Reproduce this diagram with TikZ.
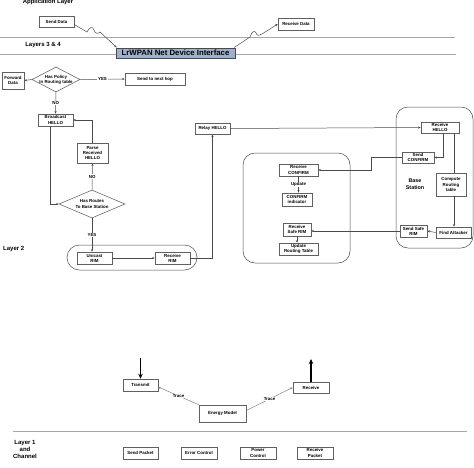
\documentclass[tikz,border=0pt]{standalone}
\usepackage{fontspec}
\setmainfont{Liberation Sans}
\usetikzlibrary{shapes.geometric,arrows.meta,calc}
\definecolor{lin}{HTML}{4A4A4A}
\definecolor{bxl}{HTML}{606060}
\definecolor{sep}{HTML}{A8A8A8}
\definecolor{lrw}{HTML}{9DB0CC}
\tikzset{
  bx/.style={draw=bxl, line width=0.55pt, fill=white, inner sep=0pt, align=center,
    font=\fontsize{4.4}{5.2}\selectfont\bfseries},
  dia/.style={draw=bxl, line width=0.55pt, fill=white, shape=diamond, inner sep=0pt},
  txt/.style={inner sep=0pt, align=center, font=\fontsize{4.4}{5.2}\selectfont\bfseries},
  lay/.style={inner sep=0pt, align=center, font=\fontsize{6}{7}\selectfont\bfseries},
  cont/.style={draw=lin, line width=0.5pt},
  arr/.style={draw=lin, line width=0.5pt, -{Stealth[length=2.6pt,width=2.2pt]}},
  ln/.style={draw=lin, line width=0.5pt},
  tr/.style={draw=gray, line width=0.5pt, -{Stealth[length=2.6pt,width=2.2pt]}},
  thk/.style={draw=black, line width=1.3pt, -{Stealth[length=5pt,width=4.5pt]}},
  sepl/.style={draw=sep, line width=0.9pt},
  lbl/.style={fill=white, inner sep=0.6pt, font=\fontsize{4.4}{5}\selectfont\bfseries}
}
\begin{document}
\begin{tikzpicture}[x=1pt,y=-1pt]
\useasboundingbox (0,0) rectangle (474,467);

% layer separators
\draw[sepl] (0,37) -- (455,37);
\draw[sepl] (0,54) -- (456,54);
\draw[sepl] (13,431) -- (467,431);

% layer labels
\node[lay] (applab) at (48,2) {Application Layer};
\node[lay] (l34) at (43,45) {Layers 3 \& 4};
\node[lay, anchor=west] (l2) at (3,249) {Layer 2};
\node[lay] (l1) at (25,449) {Layer 1\\and\\Channel};

% containers
\node[cont, rounded corners=12.5pt, minimum width=130pt, minimum height=25pt] (capsule) at (132,257.5) {};
\node[cont, rounded corners=12pt, minimum width=107pt, minimum height=110pt] (inner) at (296.5,208) {};
\node[cont, rounded corners=12pt, minimum width=77pt, minimum height=141pt] (base) at (434.5,177.5) {};
\node[txt, font=\fontsize{5.4}{6.4}\selectfont\bfseries] (basetxt) at (415,184) {Base\\Station};

% top
\node[bx, minimum width=35pt, minimum height=11pt] (senddata) at (56.5,21.5) {Send Data};
\node[bx, minimum width=36pt, minimum height=12pt] (recvdata) at (296,24) {Receive Data};
\node[draw=lin, line width=0.5pt, fill=lrw, inner sep=0pt, minimum width=119pt, minimum height=10.5pt,
      font=\fontsize{7.8}{9}\selectfont\bfseries] (lrwpan) at (175.5,53) {LrWPAN Net Device Interface};

% layer 3/4 flow
\node[bx, minimum width=22pt, minimum height=17pt] (fwd) at (13,80.5) {Forward\\Data};
\node[dia, minimum width=48pt, minimum height=25pt] (policy) at (56,79.5) {};
\node[txt] (policytxt) at (policy) {Has Policy\\In Routing table};
\node[bx, minimum width=60pt, minimum height=12pt] (nexthop) at (155,79) {Send to next hop};
\node[bx, minimum width=35pt, minimum height=12pt] (bcast) at (55.5,120) {Broadcast\\HELLO};
\node[bx, minimum width=31pt, minimum height=20pt] (parse) at (92.5,153) {Parse\\Received\\HELLO};
\node[dia, minimum width=66pt, minimum height=28pt] (routes) at (92,204) {};
\node[txt] (routestxt) at (routes) {Has Routes\\To Base Station};
\node[bx, minimum width=35pt, minimum height=12pt] (unicast) at (94.5,258) {Unicast\\RIM};
\node[bx, minimum width=35pt, minimum height=12pt] (rrim) at (172.5,258) {Receive\\RIM};
\node[bx, minimum width=35pt, minimum height=11pt] (relay) at (212.5,128.5) {Relay HELLO};

% inner group
\node[bx, minimum width=39pt, minimum height=12pt] (rconfirm) at (298.5,170) {Receive\\CONFIRM};
\node[bx, minimum width=30pt, minimum height=13pt] (cind) at (297,199.5) {CONFIRM\\indicator};
\node[bx, minimum width=28pt, minimum height=13pt] (rsrim) at (297,229.5) {Receive\\Safe RIM};
\node[bx, minimum width=39pt, minimum height=12pt] (urt) at (298.5,249) {Update\\Routing Table};

% base station
\node[bx, minimum width=38pt, minimum height=11pt] (rhello) at (440,127.5) {Receive\\HELLO};
\node[bx, minimum width=32pt, minimum height=11pt] (sconfirm) at (418,157.5) {Send\\CONFIRM};
\node[bx, minimum width=30pt, minimum height=23pt] (compute) at (451,184.5) {Compute\\Routing\\table};
\node[bx, minimum width=35pt, minimum height=11pt] (findatt) at (453.5,232.5) {Find Attacker};
\node[bx, minimum width=27pt, minimum height=12pt] (ssrim) at (413.5,231) {Send Safe\\RIM};

% bottom
\node[bx, minimum width=35pt, minimum height=12pt] (transmit) at (140.5,385) {Transmit};
\node[bx, minimum width=47pt, minimum height=17pt] (energy) at (222.5,413.5) {Energy Model};
\node[bx, minimum width=36pt, minimum height=11pt] (receive) at (311,387.5) {Receive};
\node[bx, minimum width=35pt, minimum height=12pt] (sendpkt) at (140.5,453) {Send Packet};
\node[bx, minimum width=36pt, minimum height=12pt] (errctl) at (199,453) {Error Control};
\node[bx, minimum width=36pt, minimum height=12pt] (powctl) at (258,453) {Power\\Control};
\node[bx, minimum width=36pt, minimum height=12pt] (recvpkt) at (315,453) {Receive\\Packet};

% connectors: top squiggles
\draw[arr] ([yshift=-3pt]senddata.east) -- (87,32) .. controls (89,27) and (93,26) .. (94,30)
   .. controls (95,34) and (98,34) .. (100,32) -- ([xshift=1pt]lrwpan.north west);
\draw[arr] ([xshift=-1pt]lrwpan.north east) -- (250,37) .. controls (252,31) and (255,30) .. (256,33)
   .. controls (257,36) and (260,36) .. (262,34) -- (recvdata.west);

% layer 3/4 flow
\draw[arr] (policy.west) -- (fwd.east);
\draw[arr] (policy.east) -- node[lbl] {YES} (nexthop.west);
\draw[arr] (policy.south) -- node[lbl] {NO} (bcast.north);
\draw[arr] (parse.north) |- (bcast.east);
\draw[arr] (routes.north) -- node[lbl] {NO} (parse.south);
\draw[arr] ([xshift=-5.5pt]bcast.south) |- (routes.west);
\draw[arr] (routes.south) -- node[lbl] {YES} (routes.south |- unicast.north);
\draw[arr] (unicast.east) -- (rrim.west);
\draw[arr] (rrim.east) -| (relay.south);
\draw[arr] (relay.east) -- (rhello.west);

% base station
\draw[arr] ([xshift=3pt]rhello.south) |- (sconfirm.east);
\draw[ln] ([xshift=14pt]rhello.south) -- ([xshift=3pt]compute.north);
\draw[arr] ([xshift=3pt]compute.south) -- ([xshift=0.5pt]findatt.north);
\draw[arr] (findatt.west) -- (ssrim.east);
\draw[arr] (sconfirm.west) -- ++(-30,0) |- (rconfirm.east);
\draw[arr] (ssrim.west) -- (rsrim.east |- ssrim.west);

% inner group
\draw[arr] (rconfirm.south) -- node[lbl] {Update} (rconfirm.south |- cind.north);
\draw[arr] (rsrim.south) -- (rsrim.south |- urt.north);

% bottom
\coordinate (txin) at (140.5,358);
\coordinate (rxout) at (311,359);
\draw[thk] (txin) -- (transmit.north);
\draw[thk] (receive.north) -- (rxout);
\draw[tr] (energy.north west) -- node[lbl] {Trace} ([yshift=-2pt]transmit.east);
\draw[tr] ([yshift=3pt]energy.east) -- node[lbl] {Trace} (receive.west);
\end{tikzpicture}
\end{document}
